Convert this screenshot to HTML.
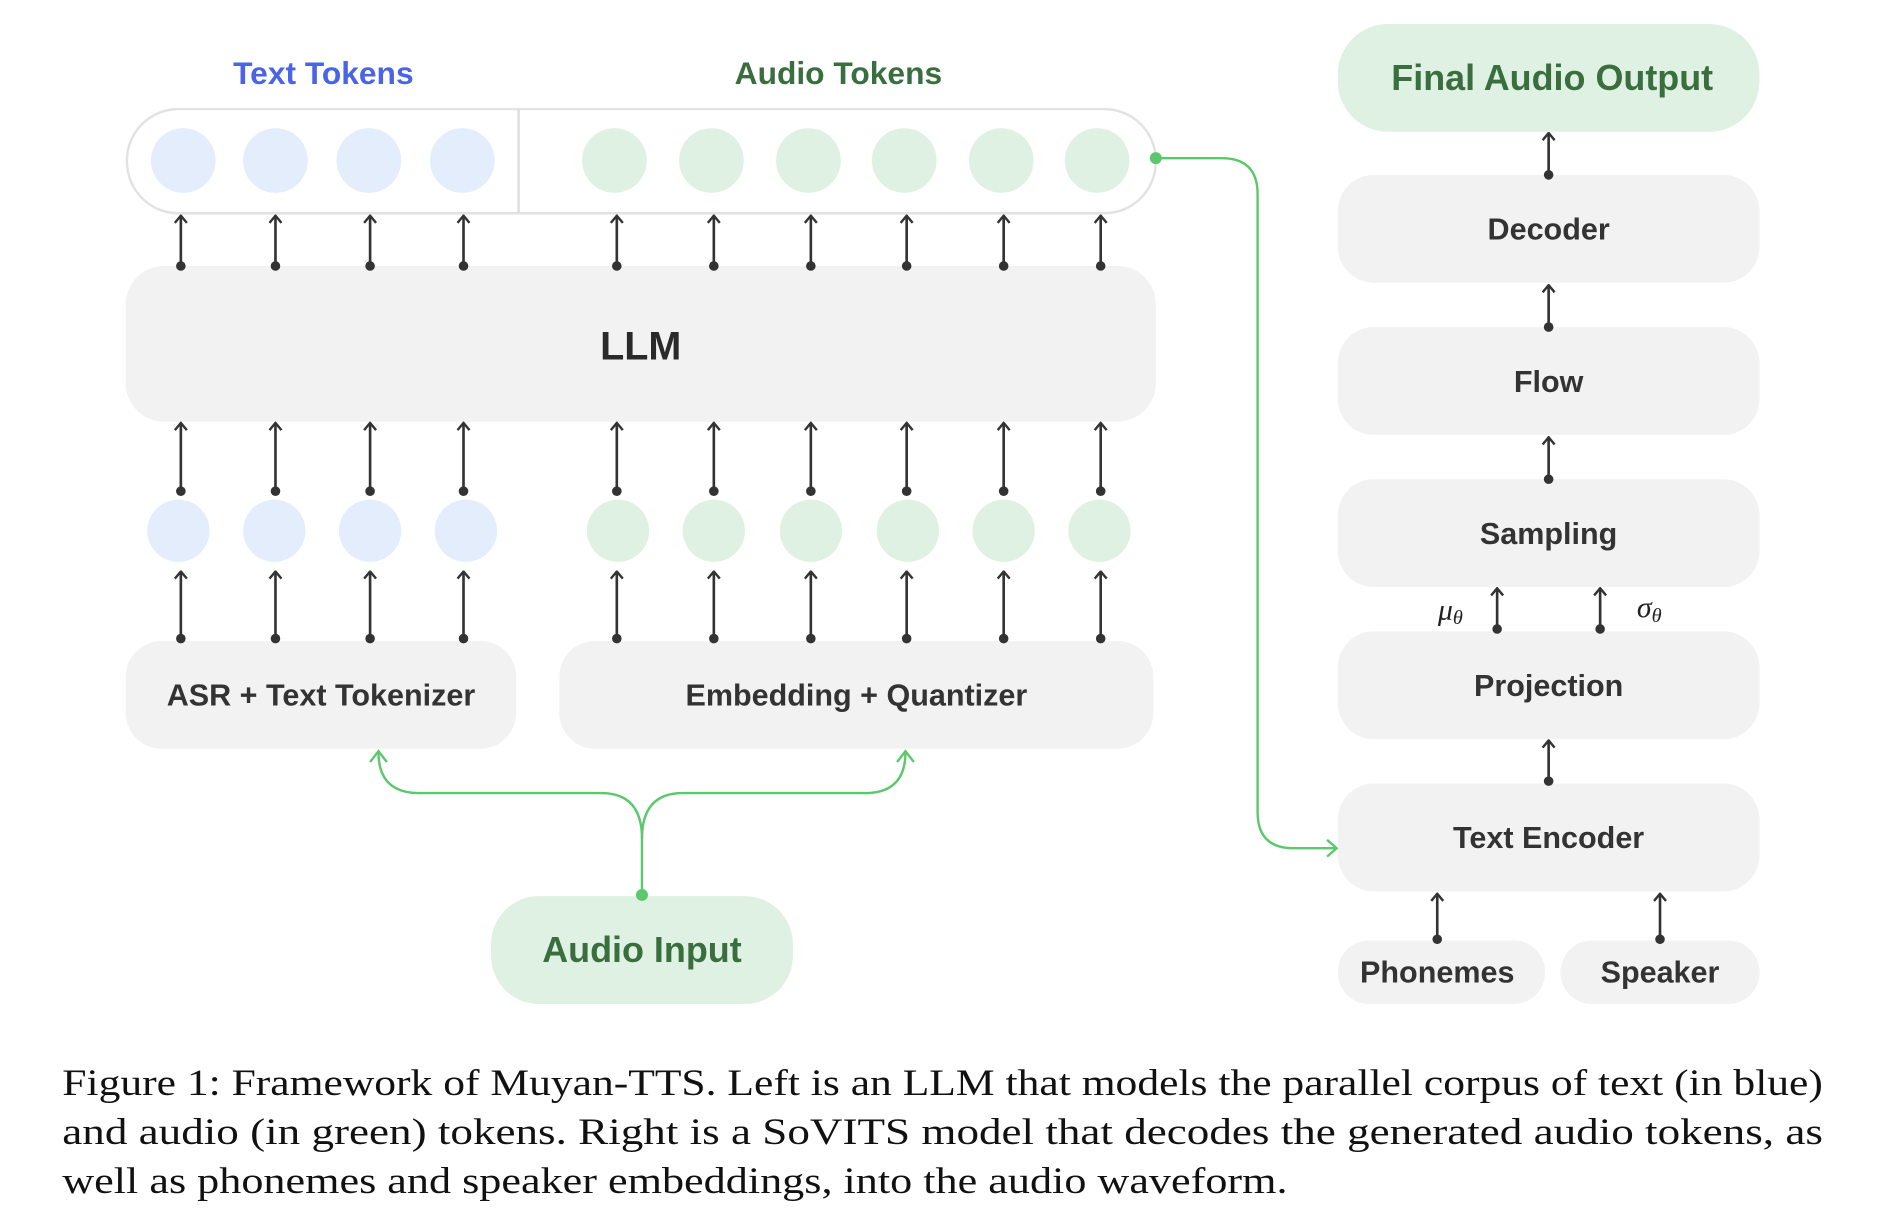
<!DOCTYPE html>
<html><head><meta charset="utf-8"><style>
html,body{margin:0;padding:0;background:#fff;}
svg{display:block;}
.s{font-family:"Liberation Sans",sans-serif;font-weight:bold;}
.lbl{font-family:"Liberation Sans",sans-serif;font-weight:bold;fill:#333;font-size:25.5px;text-anchor:middle;}
.cap{font-family:"Liberation Serif",serif;font-size:31px;fill:#111;}
</style></head><body>
<svg width="1878" height="1228" viewBox="0 0 1568 1025" preserveAspectRatio="none" xmlns="http://www.w3.org/2000/svg">
<defs>
<marker id="ah" markerWidth="12" markerHeight="12" refX="6" refY="1" orient="0" markerUnits="userSpaceOnUse"><path d="M1,7 L6,1 L11,7" fill="none" stroke="#333" stroke-width="2"/></marker>
</defs>
<rect width="1568" height="1025" fill="#fff"/>
<text x="270" y="70" class="s" font-size="26.5" fill="#4b63e6" text-anchor="middle">Text Tokens</text>
<text x="700" y="70" class="s" font-size="26.5" fill="#3b6e3e" text-anchor="middle">Audio Tokens</text>
<rect x="106" y="91" width="859" height="87" rx="43" fill="#fff" stroke="#e2e2e2" stroke-width="2"/>
<line x1="433" y1="91" x2="433" y2="178" stroke="#ddd" stroke-width="2"/>
<g fill="#e3edfb">
<ellipse cx="153" cy="134" rx="27" ry="27"/><ellipse cx="230" cy="134" rx="27" ry="27"/><ellipse cx="308" cy="134" rx="27" ry="27"/><ellipse cx="386" cy="134" rx="27" ry="27"/>
</g>
<g fill="#dff1e2">
<ellipse cx="513" cy="134" rx="27" ry="27"/><ellipse cx="594" cy="134" rx="27" ry="27"/><ellipse cx="675" cy="134" rx="27" ry="27"/><ellipse cx="755" cy="134" rx="27" ry="27"/><ellipse cx="836" cy="134" rx="27" ry="27"/><ellipse cx="916" cy="134" rx="27" ry="27"/>
</g>
<rect x="105" y="222" width="860" height="130" rx="32" fill="#f2f2f2"/>
<text x="535" y="300" class="s" font-size="33" fill="#2a2a2a" text-anchor="middle">LLM</text>
<g fill="#e3edfb">
<circle cx="149" cy="443" r="26"/><circle cx="229" cy="443" r="26"/><circle cx="309" cy="443" r="26"/><circle cx="389" cy="443" r="26"/>
</g>
<g fill="#dff1e2">
<circle cx="516" cy="443" r="26"/><circle cx="596" cy="443" r="26"/><circle cx="677" cy="443" r="26"/><circle cx="758" cy="443" r="26"/><circle cx="838" cy="443" r="26"/><circle cx="918" cy="443" r="26"/>
</g>
<rect x="105" y="535" width="326" height="90" rx="30" fill="#f2f2f2"/>
<text x="268" y="589" class="lbl">ASR + Text Tokenizer</text>
<rect x="467" y="535" width="496" height="90" rx="30" fill="#f2f2f2"/>
<text x="715" y="589" class="lbl">Embedding + Quantizer</text>
<rect x="410" y="748" width="252" height="90" rx="40" fill="#dff1e2"/>
<text x="536" y="803" class="s" font-size="30" fill="#3b6e3e" text-anchor="middle">Audio Input</text>
<g stroke="#333" stroke-width="2.2" fill="#333">
<g marker-end="url(#ah)">
<line x1="151" y1="222" x2="151" y2="180"/><line x1="230" y1="222" x2="230" y2="180"/><line x1="309" y1="222" x2="309" y2="180"/><line x1="387" y1="222" x2="387" y2="180"/>
<line x1="515" y1="222" x2="515" y2="180"/><line x1="596" y1="222" x2="596" y2="180"/><line x1="677" y1="222" x2="677" y2="180"/><line x1="757" y1="222" x2="757" y2="180"/><line x1="838" y1="222" x2="838" y2="180"/><line x1="919" y1="222" x2="919" y2="180"/>
<line x1="151" y1="410" x2="151" y2="353"/><line x1="230" y1="410" x2="230" y2="353"/><line x1="309" y1="410" x2="309" y2="353"/><line x1="387" y1="410" x2="387" y2="353"/>
<line x1="515" y1="410" x2="515" y2="353"/><line x1="596" y1="410" x2="596" y2="353"/><line x1="677" y1="410" x2="677" y2="353"/><line x1="757" y1="410" x2="757" y2="353"/><line x1="838" y1="410" x2="838" y2="353"/><line x1="919" y1="410" x2="919" y2="353"/>
<line x1="151" y1="533" x2="151" y2="477"/><line x1="230" y1="533" x2="230" y2="477"/><line x1="309" y1="533" x2="309" y2="477"/><line x1="387" y1="533" x2="387" y2="477"/>
<line x1="515" y1="533" x2="515" y2="477"/><line x1="596" y1="533" x2="596" y2="477"/><line x1="677" y1="533" x2="677" y2="477"/><line x1="757" y1="533" x2="757" y2="477"/><line x1="838" y1="533" x2="838" y2="477"/><line x1="919" y1="533" x2="919" y2="477"/>
<line x1="1293" y1="146" x2="1293" y2="111"/><line x1="1293" y1="273" x2="1293" y2="238"/><line x1="1293" y1="400" x2="1293" y2="365"/>
<line x1="1250" y1="525" x2="1250" y2="491"/><line x1="1336" y1="525" x2="1336" y2="491"/>
<line x1="1293" y1="652" x2="1293" y2="618"/>
<line x1="1200" y1="784" x2="1200" y2="746"/><line x1="1386" y1="784" x2="1386" y2="746"/>
</g>
<g stroke="none">
<circle cx="151" cy="222" r="4"/><circle cx="230" cy="222" r="4"/><circle cx="309" cy="222" r="4"/><circle cx="387" cy="222" r="4"/><circle cx="515" cy="222" r="4"/><circle cx="596" cy="222" r="4"/><circle cx="677" cy="222" r="4"/><circle cx="757" cy="222" r="4"/><circle cx="838" cy="222" r="4"/><circle cx="919" cy="222" r="4"/>
<circle cx="151" cy="410" r="4"/><circle cx="230" cy="410" r="4"/><circle cx="309" cy="410" r="4"/><circle cx="387" cy="410" r="4"/><circle cx="515" cy="410" r="4"/><circle cx="596" cy="410" r="4"/><circle cx="677" cy="410" r="4"/><circle cx="757" cy="410" r="4"/><circle cx="838" cy="410" r="4"/><circle cx="919" cy="410" r="4"/>
<circle cx="151" cy="533" r="4"/><circle cx="230" cy="533" r="4"/><circle cx="309" cy="533" r="4"/><circle cx="387" cy="533" r="4"/><circle cx="515" cy="533" r="4"/><circle cx="596" cy="533" r="4"/><circle cx="677" cy="533" r="4"/><circle cx="757" cy="533" r="4"/><circle cx="838" cy="533" r="4"/><circle cx="919" cy="533" r="4"/>
</g>
</g>
<rect x="1117" y="20" width="352" height="90" rx="42" fill="#dff1e2"/>
<text x="1296" y="75" class="s" font-size="30" fill="#3b6e3e" text-anchor="middle">Final Audio Output</text>
<rect x="1117" y="146" width="352" height="90" rx="30" fill="#f2f2f2"/>
<text x="1293" y="200" class="lbl">Decoder</text>
<rect x="1117" y="273" width="352" height="90" rx="30" fill="#f2f2f2"/>
<text x="1293" y="327" class="lbl">Flow</text>
<rect x="1117" y="400" width="352" height="90" rx="30" fill="#f2f2f2"/>
<text x="1293" y="454" class="lbl">Sampling</text>
<rect x="1117" y="527" width="352" height="90" rx="30" fill="#f2f2f2"/>
<text x="1293" y="581" class="lbl">Projection</text>
<rect x="1117" y="654" width="352" height="90" rx="30" fill="#f2f2f2"/>
<text x="1293" y="708" class="lbl">Text Encoder</text>
<rect x="1117" y="785" width="173" height="53" rx="26" fill="#f2f2f2"/>
<text x="1200" y="820" class="lbl">Phonemes</text>
<rect x="1303" y="785" width="166" height="53" rx="26" fill="#f2f2f2"/>
<text x="1386" y="820" class="lbl">Speaker</text>
<text x="1211" y="517" font-family="Liberation Serif,serif" font-style="italic" font-size="25" fill="#222" text-anchor="middle">μ<tspan font-size="17" dy="4">θ</tspan></text>
<text x="1377" y="515" font-family="Liberation Serif,serif" font-style="italic" font-size="25" fill="#222" text-anchor="middle">σ<tspan font-size="17" dy="4">θ</tspan></text>
<g fill="#333">
<circle cx="1293" cy="146" r="4"/><circle cx="1293" cy="273" r="4"/><circle cx="1293" cy="400" r="4"/><circle cx="1250" cy="525" r="4"/><circle cx="1336" cy="525" r="4"/><circle cx="1293" cy="652" r="4"/><circle cx="1200" cy="784" r="4"/><circle cx="1386" cy="784" r="4"/>
</g>
<g stroke="#5cc86e" stroke-width="2" fill="none">
<path d="M536,747 V700 Q536,662 570,662 H722 Q756,662 756,628"/>
<path d="M536,700 Q536,662 502,662 H350 Q316,662 316,628"/>
<path d="M749,636 L756,627 L763,636"/>
<path d="M309,636 L316,627 L323,636"/>
<path d="M965,132 H1020 Q1050,132 1050,162 V678 Q1050,708 1080,708 H1116"/>
<path d="M1108,701 L1116,708 L1108,715"/>
</g>
<circle cx="536" cy="747" r="5" fill="#5cc86e"/>
<circle cx="965" cy="132" r="5" fill="#5cc86e"/>
<text x="52" y="914" class="cap" textLength="1470" lengthAdjust="spacingAndGlyphs">Figure 1: Framework of Muyan-TTS. Left is an LLM that models the parallel corpus of text (in blue)</text>
<text x="52" y="955" class="cap" textLength="1470" lengthAdjust="spacingAndGlyphs">and audio (in green) tokens.  Right is a SoVITS model that decodes the generated audio tokens, as</text>
<text x="52" y="996" class="cap" textLength="1023" lengthAdjust="spacingAndGlyphs">well as phonemes and speaker embeddings, into the audio waveform.</text>
</svg>
</body></html>
